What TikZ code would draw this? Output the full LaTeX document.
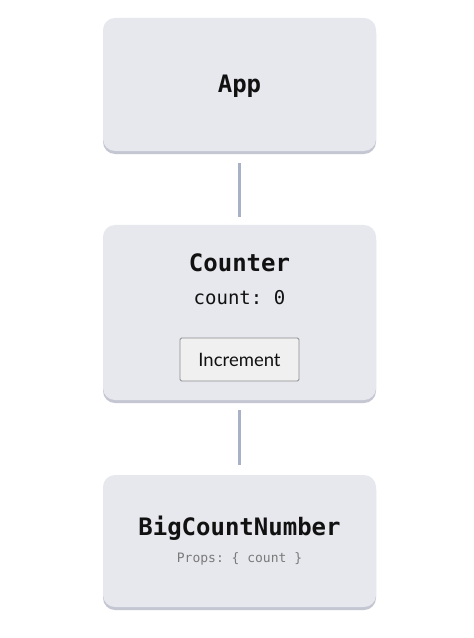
\documentclass[tikz,border=0pt]{standalone}
\usepackage{fontspec}
\setmainfont{Lato}
\setmonofont{DejaVu Sans Mono}
\usetikzlibrary{shadows}
\definecolor{cardfill}{HTML}{E7E8EE}
\definecolor{cardshadow}{HTML}{C4C7D2}
\definecolor{connc}{HTML}{A9B1C6}
\definecolor{btnfill}{HTML}{F0F0F0}
\definecolor{btnline}{HTML}{8C8C8C}
\definecolor{titlec}{HTML}{111111}
\definecolor{propc}{HTML}{7A7A7A}
\begin{document}
\begin{tikzpicture}[x=1bp,y=-1bp,
  card/.style={rounded corners=12bp, fill=cardfill, draw=none, minimum width=273bp, inner sep=0pt,
    drop shadow={shadow xshift=0bp, shadow yshift=-3bp, fill=cardshadow, opacity=1}},
  titletext/.style={font=\ttfamily\bfseries\fontsize{24bp}{28bp}\selectfont, text=titlec, inner sep=0pt},
  counttext/.style={font=\ttfamily\fontsize{19bp}{23bp}\selectfont, text=titlec, inner sep=0pt},
  proptext/.style={font=\ttfamily\fontsize{13bp}{16bp}\selectfont, text=propc, inner sep=0pt},
  button/.style={rounded corners=1.5bp, fill=btnfill, draw=btnline, line width=0.8bp, minimum width=119bp, minimum height=43bp, inner sep=0pt, font=\fontsize{18.5bp}{22bp}\selectfont, text=titlec},
  conn/.style={draw=connc, line width=3.5bp}]
\useasboundingbox (0,0) rectangle (474,638);
\fill[white] (0,0) rectangle (474,638);
\node[card, minimum height=133bp] (app) at (239.5,84.5) {};
\node[card, minimum height=175bp] (counter) at (239.5,312.5) {};
\node[card, minimum height=132bp] (big) at (239.5,541) {};
\node[titletext] (apptitle) at (239.5,86) {App};
\node[titletext] (countertitle) at (239.5,263) {Counter};
\node[counttext] (countval) at (239.5,298) {count: 0};
\node[button] (inc) at (239.5,359.5) {Increment};
\node[titletext] (bigtitle) at (239.5,528) {BigCountNumber};
\node[proptext] (props) at (239.5,559) {Props: \{ count \}};
\draw[conn] ([yshift=-12bp]app.south) -- ([yshift=8bp]counter.north);
\draw[conn] ([yshift=-10bp]counter.south) -- ([yshift=10bp]big.north);
\end{tikzpicture}
\end{document}
